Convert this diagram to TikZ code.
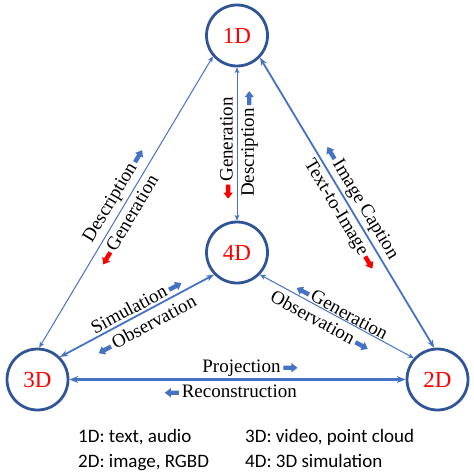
\documentclass[tikz,border=0pt]{standalone}
\usepackage{fontspec}
\setmainfont{Liberation Serif}
\newfontfamily\legendfont{Carlito}
\usetikzlibrary{arrows.meta}

\definecolor{linkblue}{HTML}{4472C4}
\definecolor{ringblue}{HTML}{2F5597}

% small block arrows that sit in the label text
\newcommand{\fwdarrow}[1]{\tikz[baseline=-4.5pt]\fill[#1] (0pt,-2.2pt) -- (8pt,-2.2pt) -- (8pt,-4.6pt) -- (14pt,0pt) -- (8pt,4.6pt) -- (8pt,2.2pt) -- (0pt,2.2pt) -- cycle;}
\newcommand{\bwdarrow}[1]{\tikz[baseline=-4.5pt]\fill[#1] (14pt,-2.2pt) -- (6pt,-2.2pt) -- (6pt,-4.6pt) -- (0pt,0pt) -- (6pt,4.6pt) -- (6pt,2.2pt) -- (14pt,2.2pt) -- cycle;}

\begin{document}
\begin{tikzpicture}[x=1pt, y=-1pt,
  dimnode/.style={circle, draw=ringblue, line width=2.8pt, minimum size=61pt, inner sep=0pt, text=red, font=\fontsize{23}{26}\selectfont},
  thinlink/.style={draw=linkblue, line width=1pt, {Stealth[length=6pt,width=5pt]}-{Stealth[length=6pt,width=5pt]}},
  midlink/.style={draw=linkblue, line width=1.8pt, {Stealth[length=8pt,width=6pt]}-{Stealth[length=8pt,width=6pt]}},
  thicklink/.style={draw=linkblue, line width=2.6pt, {Stealth[length=9pt,width=7pt]}-{Stealth[length=9pt,width=7pt]}},
  lbl/.style={sloped, allow upside down, inner sep=0pt, text=black, font=\fontsize{19}{22}\selectfont},
  legend/.style={anchor=base west, inner sep=0pt, font=\legendfont\fontsize{19}{22}\selectfont}
]
  \useasboundingbox (0,0) rectangle (474,474);

  \node[dimnode] (d1) at (237,35.5) {1D};
  \node[dimnode] (d4) at (237,252.5) {4D};
  \node[dimnode] (d3) at (37.5,379.5) {3D};
  \node[dimnode] (d2) at (437.5,379.5) {2D};

  \draw[thinlink] (d3.87) -- (d1.221)
    node[lbl, pos=0.5, above=4pt] (descl) {Description\hspace{3pt}\fwdarrow{linkblue}}
    node[lbl, pos=0.457, below=4pt] (genl) {\bwdarrow{red}\hspace{3pt}Generation};
  \draw[thinlink] (d4.north) -- (d1.south)
    node[lbl, pos=0.474, above=4pt] (genv) {\bwdarrow{red}\hspace{3pt}Generation}
    node[lbl, pos=0.5, below=4pt] (descv) {Description\hspace{3pt}\fwdarrow{linkblue}};
  \draw[midlink] (d1.316) -- (d2.96)
    node[lbl, pos=0.52, above=3pt] (capr) {\bwdarrow{linkblue}\hspace{3pt}Image Caption}
    node[lbl, pos=0.52, below=4pt] (t2ir) {Text-to-Image\hspace{3pt}\fwdarrow{red}};
  \draw[midlink] (d3.45) -- (d4.224)
    node[lbl, pos=0.525, above=3pt] (siml) {Simulation\hspace{3pt}\fwdarrow{linkblue}}
    node[lbl, pos=0.52, below=6pt] (obsl) {\bwdarrow{linkblue}\hspace{3pt}Observation};
  \draw[thinlink] (d4.316) -- (d2.138)
    node[lbl, pos=0.51, above=1pt] (genr) {\bwdarrow{linkblue}\hspace{3pt}Generation}
    node[lbl, pos=0.43, below=5pt] (obsr) {Observation\hspace{3pt}\fwdarrow{linkblue}};
  \draw[thicklink] (d3.east) -- (d2.west)
    node[lbl, pos=0.537, above=3pt] (proj) {Projection\hspace{3pt}\fwdarrow{linkblue}}
    node[lbl, pos=0.48, below=5pt] (recon) {\bwdarrow{linkblue}\hspace{3pt}Reconstruction};

  % legend
  \node[legend] (leg1) at (78,442) {1D: text, audio};
  \node[legend] (leg2) at (78,467) {2D: image, RGBD};
  \node[legend] (leg3) at (245,442) {3D: video, point cloud};
  \node[legend] (leg4) at (245,467) {4D: 3D simulation};
\end{tikzpicture}
\end{document}
